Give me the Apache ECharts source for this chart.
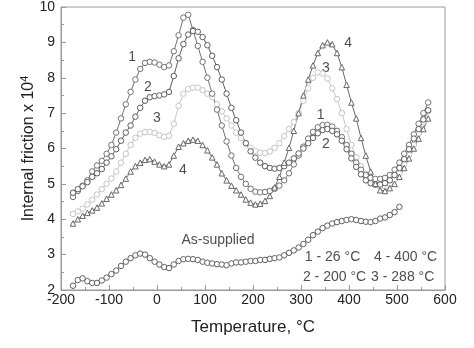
<!DOCTYPE html>
<html><head><meta charset="utf-8">
<script src="https://cdn.jsdelivr.net/npm/echarts@6/dist/echarts.min.js"></script>
<style>html,body{margin:0;padding:0;background:#fff}#c{width:474px;height:348px}</style>
</head><body><div id="c"></div>
<script>
var temps = [-175,-165,-155,-145,-135,-125,-115,-105,-95,-85,-75,-65,-55,-45,-35,-25,-15,-5,5,15,25,35,45,55,65,75,85,95,105,115,125,135,145,155,165,175,185,195,205,215,225,235,245,255,265,275,285,295,305,315,325,335,345,355,365,375,385,395,405,415,425,435,445,455,465,475,485,495,505,515,525,535,545,555,565];
var curve1 = [4.63,4.80,4.95,5.10,5.35,5.52,5.65,5.85,6.10,6.45,6.85,7.25,7.60,7.95,8.25,8.42,8.45,8.43,8.37,8.30,8.35,8.75,9.20,9.70,9.78,9.35,8.90,8.45,8.00,7.55,7.10,6.65,6.20,5.80,5.45,5.20,5.00,4.86,4.78,4.76,4.77,4.80,4.86,4.95,5.10,5.30,5.55,5.80,6.05,6.28,6.47,6.60,6.66,6.67,6.62,6.50,6.32,6.10,5.85,5.60,5.40,5.25,5.17,5.14,5.14,5.17,5.25,5.40,5.60,5.85,6.10,6.40,6.70,7.00,7.30];
var curve2 = [4.75,4.85,4.93,5.05,5.20,5.30,5.42,5.60,5.78,5.98,6.22,6.45,6.65,6.90,7.15,7.35,7.45,7.48,7.50,7.53,7.60,8.05,8.55,8.95,9.22,9.32,9.30,9.15,8.92,8.62,8.30,7.95,7.55,7.15,6.80,6.45,6.15,5.92,5.74,5.60,5.50,5.45,5.43,5.45,5.50,5.60,5.72,5.86,6.00,6.15,6.30,6.43,6.52,6.55,6.50,6.40,6.22,5.98,5.72,5.48,5.27,5.10,5.02,4.98,4.98,5.02,5.10,5.25,5.45,5.70,5.98,6.28,6.55,6.82,7.08];
var curve3 = [4.15,4.22,4.30,4.42,4.55,4.70,4.85,5.00,5.15,5.35,5.60,5.85,6.10,6.30,6.42,6.46,6.47,6.44,6.38,6.33,6.36,6.70,7.20,7.55,7.68,7.72,7.72,7.65,7.55,7.45,7.25,7.05,6.85,6.65,6.45,6.30,6.15,6.02,5.93,5.88,5.87,5.92,6.02,6.15,6.35,6.55,6.75,7.00,7.35,7.70,8.00,8.15,8.12,7.98,7.70,7.40,7.00,6.55,6.10,5.75,5.50,5.28,5.10,4.98,4.92,4.93,5.00,5.12,5.30,5.55,5.82,6.10,6.42,6.75,7.05];
var curve4 = [3.88,4.00,4.10,4.18,4.25,4.33,4.45,4.58,4.70,4.82,4.97,5.15,5.35,5.50,5.60,5.68,5.70,5.63,5.55,5.50,5.55,5.80,6.05,6.15,6.22,6.25,6.22,6.10,5.95,5.75,5.55,5.30,5.10,4.95,4.82,4.70,4.56,4.47,4.42,4.44,4.52,4.66,4.90,5.20,5.60,6.02,6.50,7.00,7.50,7.95,8.35,8.70,8.92,9.00,8.95,8.70,8.30,7.80,7.30,6.85,6.30,5.80,5.35,5.00,4.82,4.80,4.88,5.00,5.20,5.45,5.72,6.00,6.28,6.55,6.85];
var asTemps = [-175,-165,-155,-145,-135,-125,-115,-105,-95,-85,-75,-65,-55,-45,-35,-25,-15,-5,5,15,25,35,45,55,65,75,85,95,105,115,125,135,145,155,165,175,185,195,205,215,225,235,245,255,265,275,285,295,305,315,325,335,345,355,365,375,385,395,405,415,425,435,445,455,465,475,485,495,505];
var asSupplied = [2.12,2.28,2.33,2.25,2.20,2.20,2.27,2.35,2.45,2.55,2.68,2.80,2.90,2.98,3.03,3.00,2.90,2.80,2.72,2.65,2.62,2.72,2.82,2.87,2.88,2.87,2.85,2.80,2.77,2.75,2.73,2.72,2.70,2.75,2.78,2.78,2.80,2.82,2.82,2.85,2.85,2.88,2.90,2.92,2.98,3.05,3.12,3.20,3.30,3.42,3.55,3.65,3.75,3.82,3.88,3.92,3.95,3.98,4.00,3.98,3.95,3.93,3.92,3.95,4.02,4.05,4.12,4.20,4.35];

var curveLabels = [["1",-52,8.59],["2",-19,7.74],["3",0,6.86],["4",54,5.40],["4",398,8.98],["3",352,8.28],["1",341,6.95],["2",352,6.13],["As-supplied",127,3.42]];
var legendLines = [["1 - 26 °C",308,2.94],["4 - 400 °C",452,2.94],["2 - 200 °C",304,2.37],["3 - 288 °C",446,2.37]];

function pairs(xs, ys){ var out=[]; for(var i=0;i<Math.min(xs.length,ys.length);i++) out.push([xs[i],ys[i]]); return out; }
var FONT = "'Liberation Sans', Arial, sans-serif";
function curve(name, xs, ys, color, symbol, size){
  return {name:name,type:'line',data:pairs(xs,ys),symbol:symbol,symbolSize:size,showSymbol:true,showAllSymbol:true,
    itemStyle:{color:'#ffffff',borderColor:color,borderWidth:1},
    lineStyle:{color:color,width:1},silent:true,animation:false};
}
var chart = echarts.init(document.getElementById('c'));
chart.setOption({
  animation:false,
  grid:{left:61,right:29,top:7,bottom:58,show:true,borderColor:'#9a9a9a',borderWidth:1,backgroundColor:'transparent'},
  xAxis:{type:'value',min:-200,max:600,interval:100,
    name:'Temperature, °C',nameLocation:'middle',nameGap:29,nameMoveOverlap:false,
    nameTextStyle:{fontFamily:FONT,fontSize:17,color:'#222'},
    axisLine:{onZero:false,lineStyle:{color:'#9a9a9a'}},
    axisTick:{inside:true,length:5,lineStyle:{color:'#9a9a9a'}},
    minorTick:{show:true,splitNumber:2,length:3,lineStyle:{color:'#9a9a9a'}},
    splitLine:{show:false},
    axisLabel:{fontFamily:FONT,fontSize:14,color:'#222',margin:3}},
  yAxis:{type:'value',min:2,max:10,interval:1,
    name:'Internal friction x 10{sup|4}',nameLocation:'middle',nameGap:23,nameMoveOverlap:false,
    nameTextStyle:{fontFamily:FONT,fontSize:16,color:'#222',
      rich:{sup:{fontFamily:FONT,fontSize:11,color:'#222',padding:[0,0,8,0]}}},
    axisLine:{onZero:false,lineStyle:{color:'#9a9a9a'}},
    axisTick:{inside:true,length:5,lineStyle:{color:'#9a9a9a'}},
    minorTick:{show:true,splitNumber:2,length:3,lineStyle:{color:'#9a9a9a'}},
    splitLine:{show:false},
    axisLabel:{fontFamily:FONT,fontSize:14,color:'#222',margin:6}},
  series:[
    curve('3',temps,curve3,'#c4c4c4','circle',5.5),
    curve('1',temps,curve1,'#707070','circle',5.5),
    curve('2',temps,curve2,'#5c5c5c','circle',5.5),
    curve('4',temps,curve4,'#666666','triangle',5.5),
    curve('As-supplied',asTemps,asSupplied,'#606060','circle',5.5),
    {type:'scatter',symbolSize:0,silent:true,animation:false,
      data:curveLabels.map(function(d){return {value:[d[1],d[2]],name:d[0]};}),
      label:{show:true,position:'inside',formatter:function(p){return p.name;},fontFamily:FONT,fontSize:14,color:'#222'}},
    {type:'scatter',symbolSize:0,silent:true,animation:false,
      data:legendLines.map(function(d){return {value:[d[1],d[2]],name:d[0]};}),
      label:{show:true,position:'right',distance:0,formatter:function(p){return p.name;},fontFamily:FONT,fontSize:14,color:'#222'}}
  ]
});
</script></body></html>
